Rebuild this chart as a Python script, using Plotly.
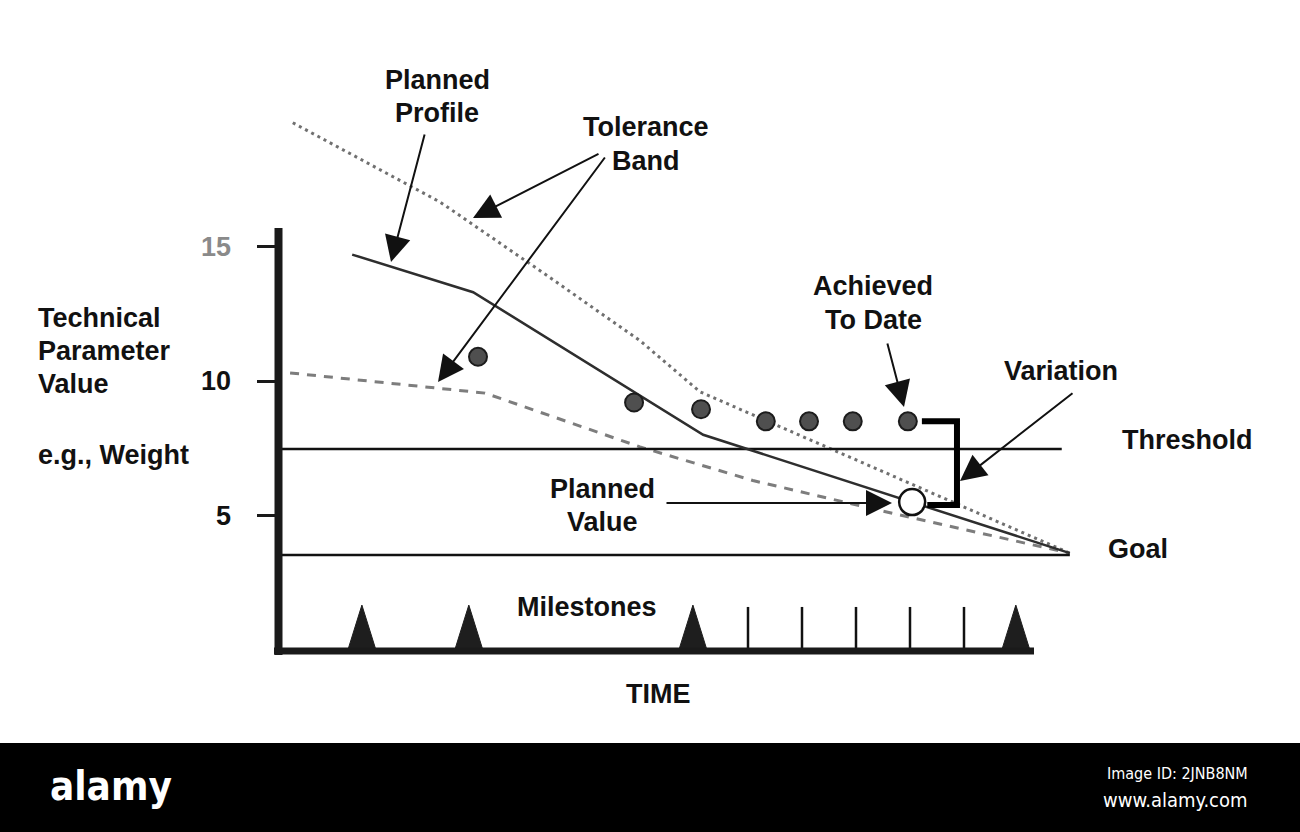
import plotly.graph_objects as go

W, H = 1300, 832

# ---------------- data (time units / parameter value) ----------------
time_profile = [1.67, 3.91, 8.17, 14.96]
planned_profile = [14.7, 13.3, 8.0, 3.6]

time_upper = [0.57, 3.30, 5.15, 7.0, 8.11, 14.96]
upper_band = [19.6, 16.65, 14.1, 11.5, 9.6, 3.6]

time_lower = [0.52, 4.13, 7.0, 9.09, 11.63, 14.96]
lower_band = [10.3, 9.55, 7.55, 6.3, 5.1, 3.6]

time_achieved = [4.0, 6.89, 8.13, 9.33, 10.13, 10.94, 11.96]
achieved = [10.9, 9.2, 8.95, 8.5, 8.5, 8.5, 8.5]

planned_value_time = [12.04]
planned_value = [5.5]

threshold = 7.47
goal = 3.53
threshold_end = 14.81
goal_end = 14.96
time_start = 0.3

milestones = [1.85, 3.83, 7.98, 13.96]
minor_ticks = [9, 10, 11, 12, 13]
y_tick_values = [5, 10, 15]
y_tick_labels = ["5", "10", "<span style='color:#8a8a8a'>15</span>"]

# ---------------- layout helpers (pixel positions of the drawing) ----------------
X0_PX, PX_PER_T = 262.0, 54.0
Y0_PX, PX_PER_V = 650.0, 26.9


def dx(px):
    return (px - X0_PX) / PX_PER_T


def dy(py):
    return (Y0_PX - py) / PX_PER_V


FONT = "Liberation Sans, Arial, Helvetica, sans-serif"
INK = "#111111"

fig = go.Figure()

# tolerance band (upper dotted, lower dashed)
fig.add_trace(go.Scatter(x=time_upper, y=upper_band, mode="lines",
                         line=dict(color="#707070", width=3, dash="3px,4px")))
fig.add_trace(go.Scatter(x=time_lower, y=lower_band, mode="lines",
                         line=dict(color="#7d7d7d", width=3, dash="9px,8px")))

# threshold & goal
fig.add_trace(go.Scatter(x=[time_start, threshold_end], y=[threshold, threshold], mode="lines",
                         line=dict(color=INK, width=2.5)))
fig.add_trace(go.Scatter(x=[time_start, goal_end], y=[goal, goal], mode="lines",
                         line=dict(color=INK, width=2.5)))

# planned profile
fig.add_trace(go.Scatter(x=time_profile, y=planned_profile, mode="lines",
                         line=dict(color="#2e2e2e", width=2.5)))

# milestones (triangles)
TRI_HALF_W = 0.26
TRI_H = 1.67
for m in milestones:
    fig.add_trace(go.Scatter(x=[m - TRI_HALF_W, m, m + TRI_HALF_W, m - TRI_HALF_W],
                             y=[0, TRI_H, 0, 0], mode="lines", fill="toself",
                             fillcolor="#1e1e1e", line=dict(color="#1e1e1e", width=1)))

# minor time ticks
tx, ty = [], []
for t in minor_ticks:
    tx += [t, t, None]
    ty += [0, 1.6, None]
fig.add_trace(go.Scatter(x=tx, y=ty, mode="lines", line=dict(color=INK, width=2.5)))

# variation bracket (between last achieved value and planned value)
bx0 = time_achieved[-1]
fig.add_trace(go.Scatter(
    x=[bx0 + 0.26, bx0 + 0.91, bx0 + 0.91, planned_value_time[0] + 0.28],
    y=[achieved[-1], achieved[-1], planned_value[0] - 0.11, planned_value[0] - 0.11],
    mode="lines", line=dict(color="#000000", width=6)))

# achieved to date
fig.add_trace(go.Scatter(x=time_achieved, y=achieved, mode="markers",
                         marker=dict(size=18, color="#4f4f4f",
                                     line=dict(color="#1c1c1c", width=2))))

# planned value
fig.add_trace(go.Scatter(x=planned_value_time, y=planned_value, mode="markers",
                         marker=dict(size=26, color="#ffffff",
                                     line=dict(color="#111111", width=2.5))))

shapes = [
    # y axis line
    dict(type="line", xref="x", yref="y", x0=dx(278.5), x1=dx(278.5), y0=dy(228), y1=dy(655),
         line=dict(color="#1a1a1a", width=8)),
    # x axis line
    dict(type="line", xref="x", yref="y", x0=dx(274), x1=dx(1034), y0=dy(651), y1=dy(651),
         line=dict(color="#1a1a1a", width=7)),
    # bottom banner
    dict(type="rect", xref="paper", yref="paper", x0=0, x1=1, y0=0, y1=(H - 743) / H,
         fillcolor="#000000", line=dict(width=0), layer="above"),
]

annotations = []


def label(text, px, py, xanchor="center", size=27, color=INK, family=FONT, weight="bold"):
    annotations.append(dict(text=text, x=px / W, y=1 - py / H, xref="paper", yref="paper",
                            xanchor=xanchor, yanchor="middle", showarrow=False,
                            font=dict(family=family, size=size, color=color, weight=weight)))


label("Planned", 437, 80)
label("Profile", 437, 113)
label("Tolerance", 646, 127)
label("Band", 646, 161)
label("Technical", 36, 318, "left")
label("Parameter", 36, 351, "left")
label("Value", 36, 384, "left")
label("e.g., Weight", 36, 455, "left")
label("Achieved", 873, 286)
label("To Date", 873, 320)
label("Variation", 1061, 371)
label("Planned", 602, 489)
label("Value", 602, 522)
label("Threshold", 1120, 440, "left")
label("Goal", 1106, 549, "left")
label("Milestones", 587, 607)
label("TIME", 658, 694)

# banner text
BANNER_FONT = "Liberation Sans Narrow, DejaVu Sans Condensed, Roboto Condensed, Liberation Sans, sans-serif"
label("alamy", 48, 786, "left", size=40, color="#ffffff", family=BANNER_FONT)
annotations.append(dict(text="Image ID: 2JNB8NM", x=1250 / W, y=1 - 773 / H, xref="paper", yref="paper",
                        xanchor="right", yanchor="middle", showarrow=False,
                        font=dict(family=BANNER_FONT, size=16, color="#ffffff")))
annotations.append(dict(text="www.alamy.com", x=1250 / W, y=1 - 800 / H, xref="paper", yref="paper",
                        xanchor="right", yanchor="middle", showarrow=False,
                        font=dict(family=BANNER_FONT, size=20, color="#ffffff")))


def arrow(tail_px, tip_px):
    annotations.append(dict(text="", x=dx(tip_px[0]), y=dy(tip_px[1]),
                            ax=dx(tail_px[0]), ay=dy(tail_px[1]),
                            xref="x", yref="y", axref="x", ayref="y",
                            showarrow=True, arrowhead=2, arrowsize=2.6, arrowwidth=2,
                            arrowcolor="#111111", standoff=0, startstandoff=0))


arrow((425, 133), (391, 262))   # planned profile
arrow((600, 153), (473, 218))   # tolerance band (upper)
arrow((606, 156), (438, 382))   # tolerance band (lower)
arrow((887, 342), (904, 407))   # achieved to date
arrow((1074, 392), (960, 481))  # variation
arrow((665, 503), (892, 503))   # planned value

fig.update_layout(
    width=W, height=H,
    margin=dict(l=0, r=0, t=0, b=0),
    paper_bgcolor="#ffffff", plot_bgcolor="#ffffff",
    showlegend=False,
    shapes=shapes,
    annotations=annotations,
    xaxis=dict(range=[dx(0), dx(W)], visible=False, fixedrange=True),
    yaxis=dict(range=[dy(H), dy(0)], showgrid=False, zeroline=False, showline=False,
               anchor="free", position=278.5 / W,
               tickmode="array", tickvals=y_tick_values, ticktext=y_tick_labels,
               ticks="outside", ticklen=22, tickwidth=3, tickcolor="#1a1a1a",
               ticklabelstandoff=20,
               tickfont=dict(family=FONT, size=27, color=INK, weight="bold"),
               fixedrange=True),
)

fig.write_html("out.html", config={"displayModeBar": False},
               post_script="document.body.style.margin='0';")
